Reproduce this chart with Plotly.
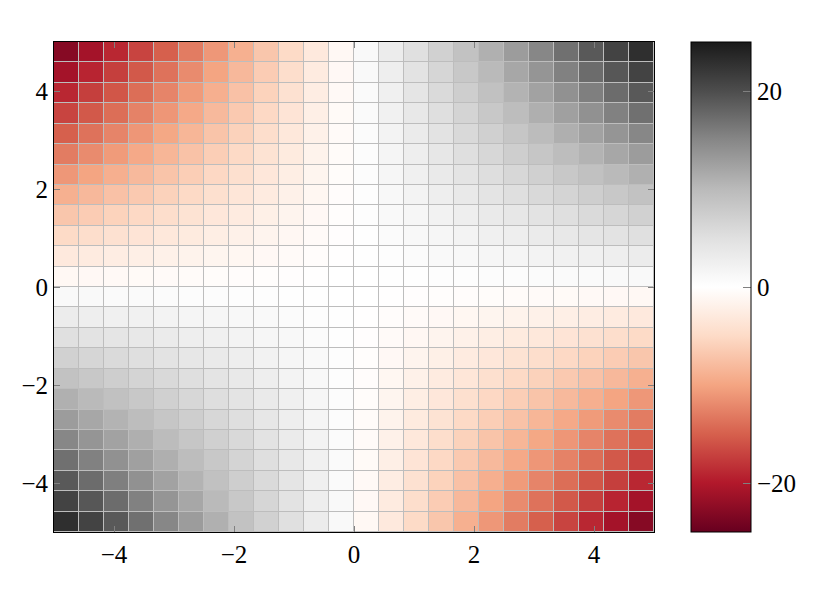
import numpy as np
import plotly.graph_objects as go

# cell centres of a 24x24 grid on [-5,5]
x_centers = [-5 + 10/48 + k*10/24 for k in range(24)]
y_centers = [-5 + 10/48 + k*10/24 for k in range(24)]
z = [[xv*yv for xv in x_centers] for yv in y_centers]
tick_vals = [-4, -2, 0, 2, 4]
cbar_ticks = [-20, 0, 20]

fig = go.Figure(go.Heatmap(
    x=x_centers, y=y_centers, z=z, colorscale="RdGy", reversescale=False,
    zmin=-25, zmax=25, xgap=1, ygap=1,
    colorbar=dict(x=1.0617, xanchor="left", y=0.5, yanchor="middle", len=1, lenmode="fraction",
                  ypad=0, xpad=0,
                  thickness=60, thicknessmode="pixels", outlinecolor="black", outlinewidth=1,
                  tickvals=cbar_ticks, ticktext=["\u221220", "0", "20"],
                  ticks="inside", ticklen=8, tickcolor="gray",
                  tickfont=dict(family="Liberation Serif", size=25, color="black"))))

ax = dict(range=[-5, 5], tickvals=tick_vals, ticktext=["\u22124", "\u22122", "0", "2", "4"],
          ticks="inside", ticklen=6, tickcolor="gray", mirror="allticks",
          showline=True, linecolor="black", linewidth=1, showgrid=False, zeroline=False,
          tickfont=dict(family="Liberation Serif", size=25, color="black"))
fig.update_layout(width=840, height=592, margin=dict(l=46, r=194, t=34, b=68, autoexpand=False),
                  plot_bgcolor="#bdbdbd", paper_bgcolor="white",
                  xaxis=ax, yaxis=ax)
fig.write_html("out.html")
